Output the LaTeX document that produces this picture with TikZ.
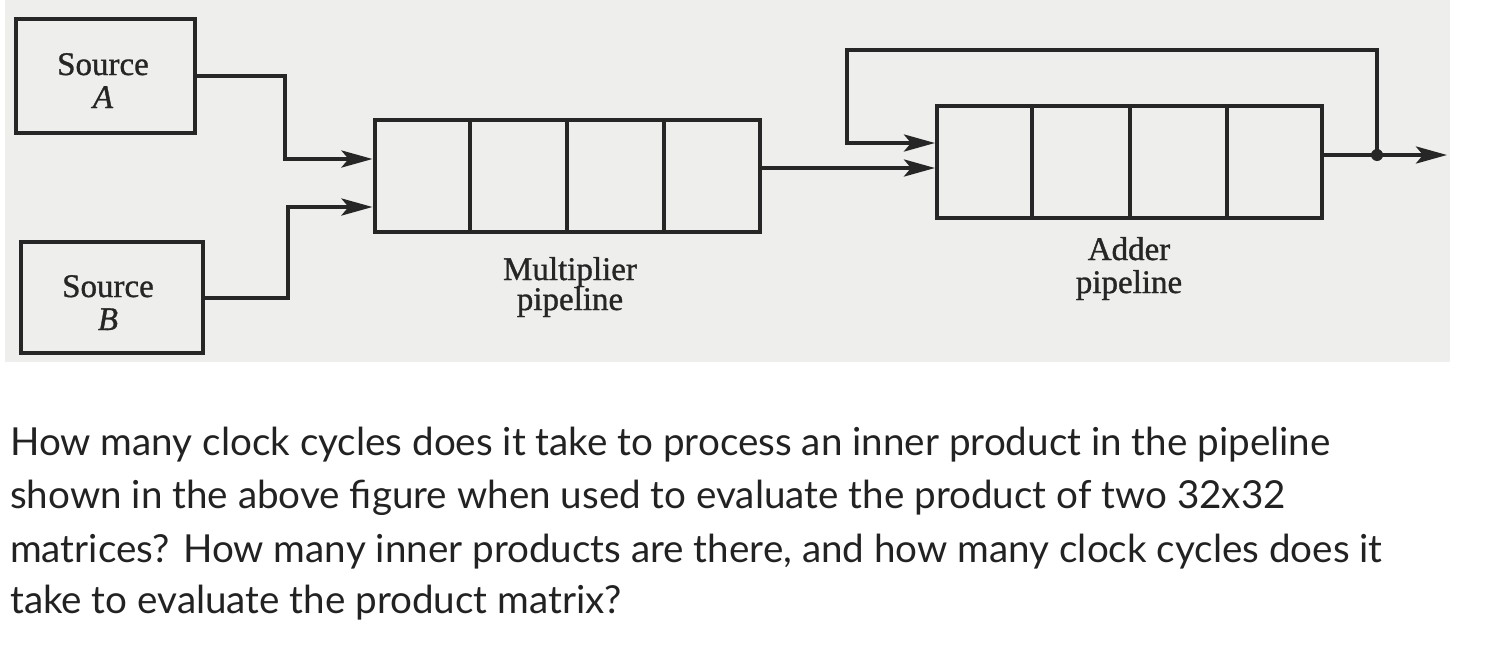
\documentclass[tikz,border=0pt]{standalone}
\usepackage{fontspec}
\setmainfont{Liberation Serif}
\newfontfamily\scanfont[FakeBold=1]{Liberation Serif}
\newfontfamily\latofont{Lato}
\usetikzlibrary{arrows.meta,calc}
\definecolor{scanbg}{RGB}{238,238,236}
\definecolor{ink}{RGB}{38,38,38}
\definecolor{qtext}{RGB}{34,34,34}
\tikzset{
  boxline/.style={draw=ink, line width=4pt},
  srcbox/.style={boxline, rectangle, inner sep=0pt},
  pipebox/.style={boxline, rectangle, inner sep=0pt, minimum width=385pt, minimum height=112pt},
  lbl/.style={text=ink, font=\scanfont\fontsize{33}{33}\selectfont, inner sep=0pt, anchor=base},
  conn/.style={draw=ink, line width=4pt},
  arr/.style={conn, -{Stealth[length=31pt, width=17pt, inset=7pt]}},
  qline/.style={text=qtext, font=\latofont\fontsize{38.6}{53}\selectfont, inner sep=0pt, anchor=base west}
}
\begin{document}
\begin{tikzpicture}[x=1pt,y=-1pt]
\useasboundingbox (0,0) rectangle (1496,654);
\fill[scanbg] (5,0) rectangle (1450,362);

% sources
\node[srcbox, minimum width=179pt, minimum height=114pt] (srcA) at (105.5,76) {};
\node[srcbox, minimum width=182pt, minimum height=111pt] (srcB) at (112,297.5) {};
\node[lbl] (srcAt) at (103,75) {Source};
\node[lbl] (srcAl) at (103,108) {\textit{A}};
\node[lbl] (srcBt) at (108,297) {Source};
\node[lbl] (srcBl) at (108,330) {\textit{B}};

% pipelines
\node[pipebox] (mult) at (567,176) {};
\node[pipebox] (add) at (1129.5,162) {};
\foreach \f in {0.25,0.5,0.75}{
  \draw[conn] ($(mult.north west)!\f!(mult.north east)$) -- ($(mult.south west)!\f!(mult.south east)$);
  \draw[conn] ($(add.north west)!\f!(add.north east)$) -- ($(add.south west)!\f!(add.south east)$);
}
\node[lbl] (multt) at (570,280) {Multiplier};
\node[lbl] (multp) at (570,310) {pipeline};
\node[lbl] (addt) at (1129,260) {Adder};
\node[lbl] (addp) at (1129,293) {pipeline};

% connectors
\coordinate (ja) at (285,159);
\coordinate (jb) at (288,207);
\draw[arr] (srcA.east) -| (ja) -- (ja -| mult.west);
\draw[arr] (srcB.east) -| (jb) -- (jb -| mult.west);
\coordinate (mo) at ([yshift=8pt]mult.east);
\draw[arr] (mo) -- (mo -| add.west);
\coordinate (ao) at ([yshift=7pt]add.east);
\coordinate (dot) at (1377,155);
\coordinate (outend) at (1447,155);
\coordinate (fbtr) at (1377,50);
\coordinate (fbtl) at (847,50);
\coordinate (fbin) at (847,143);
\draw[arr] (ao) -- (outend);
\draw[arr] (dot) -- (fbtr) -- (fbtl) -- (fbin) -- (fbin -| add.west);
\fill[ink] (dot) circle (6);

% question
\node[qline] (q1) at (10,455) {How many clock cycles does it take to process an inner product in the pipeline};
\node[qline] (q2) at (10,508) {shown in the above figure when used to evaluate the product of two 32x32};
\node[qline] (q3) at (10,562) {matrices? How many inner products are there, and how many clock cycles does it};
\node[qline] (q4) at (10,613) {take to evaluate the product matrix?};
\end{tikzpicture}
\end{document}
